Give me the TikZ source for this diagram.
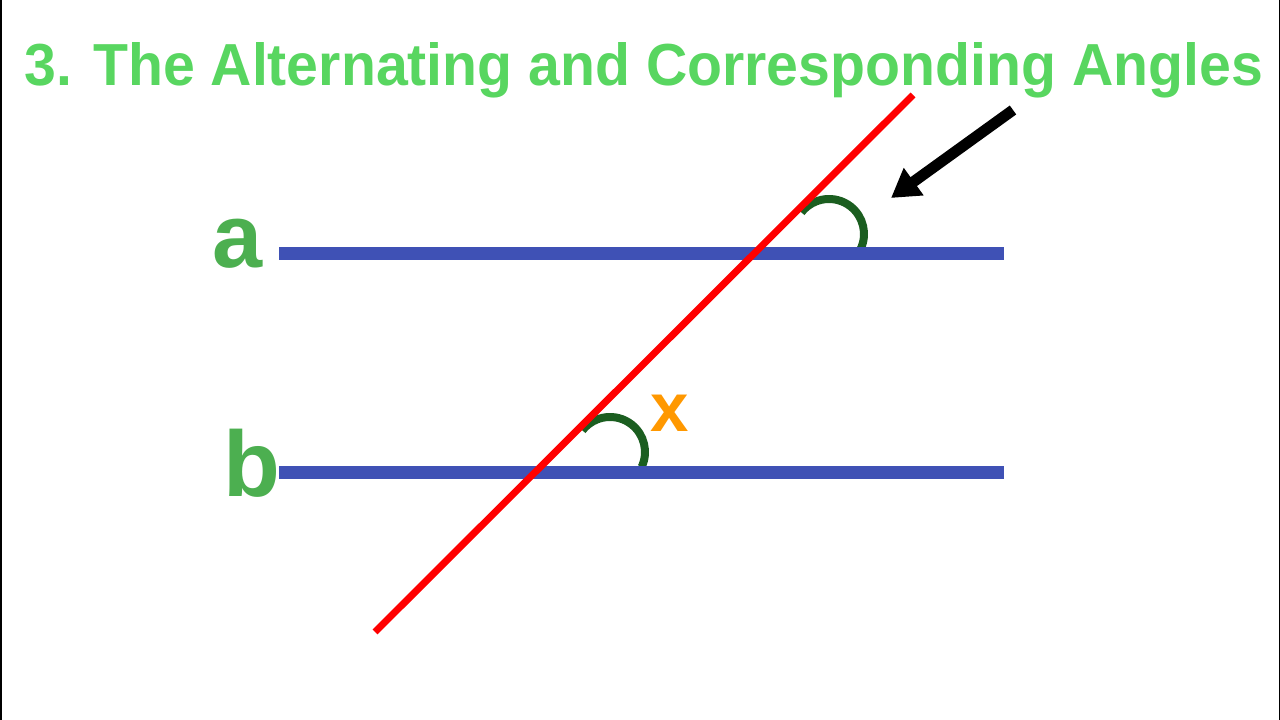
\documentclass[tikz,border=0pt]{standalone}
\usepackage{fontspec}
\setmainfont{Liberation Sans}
\usetikzlibrary{arrows.meta}
\definecolor{titlegreen}{RGB}{88,214,96}
\definecolor{labelgreen}{RGB}{76,175,80}
\definecolor{lineblue}{RGB}{63,81,181}
\definecolor{arcgreen}{RGB}{27,94,32}
\definecolor{xorange}{RGB}{255,152,0}
\begin{document}
\begin{tikzpicture}[x=1pt,y=1pt,
  parline/.style={lineblue,line width=13pt},
  transline/.style={red,line width=7pt},
  anglearc/.style={arcgreen,line width=8pt},
  pointer/.style={black,line width=11pt,-{Triangle[length=28pt,width=32pt]}},
  lbl/.style={inner sep=0pt,anchor=base,font=\bfseries}]
\useasboundingbox (0,0) rectangle (1280,720);
\fill[white] (0,0) rectangle (1280,720);
\fill[black] (0,0) rectangle (1.5,720);
\fill[black] (1278.5,0) rectangle (1280,720);
% title
\node[anchor=base west,inner sep=0pt,text=titlegreen] (title) at (24,634)
  {\resizebox{1238pt}{43pt}{\bfseries 3. The Alternating and Corresponding Angles}};
% coordinates
\coordinate (a1) at (279,466);
\coordinate (a2) at (1004,466);
\coordinate (b1) at (279,247);
\coordinate (b2) at (1004,247);
\coordinate (t1) at (375,88);
\coordinate (t2) at (913,625);
\coordinate (ca) at (829,486);
\coordinate (cb) at (610,268);
\coordinate (ptail) at (1013,610);
\coordinate (ptip) at (891,522);
% angle arcs
\draw[anglearc] (ca) ++(142:35) arc[start angle=142,end angle=-25,radius=35];
\draw[anglearc] (cb) ++(142:35) arc[start angle=142,end angle=-25,radius=35];
% parallel lines
\draw[parline] (a1) -- (a2);
\draw[parline] (b1) -- (b2);
% transversal
\draw[transline] (t1) -- (t2);
% pointer arrow
\draw[pointer] (ptail) -- (ptip);
% labels
\node[lbl,text=labelgreen,font=\bfseries\fontsize{90}{96}\selectfont] (la) at (238,452) {a};
\node[lbl,text=labelgreen,font=\bfseries\fontsize{93}{96}\selectfont] (lb) at (252,223) {b};
\node[lbl,text=xorange,font=\bfseries\fontsize{69}{72}\selectfont] (lx) at (670,288) {x};
\end{tikzpicture}
\end{document}
